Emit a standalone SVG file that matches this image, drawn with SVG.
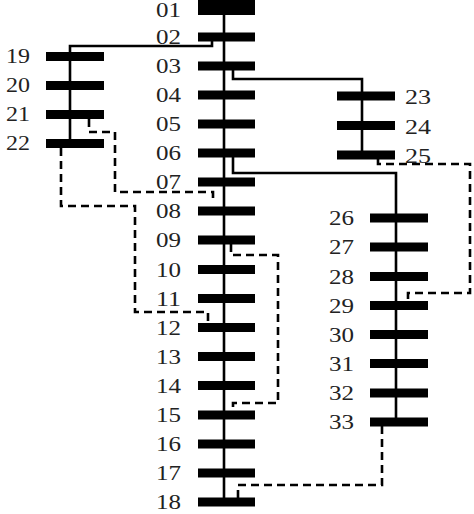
<svg xmlns="http://www.w3.org/2000/svg" width="474" height="514" viewBox="0 0 474 514">
<style>
.bar{fill:#000}
.ln{fill:none;stroke:#000;stroke-width:2.6}
.ds{fill:none;stroke:#000;stroke-width:2.6;stroke-dasharray:8 5}
text{font-family:"Liberation Serif","Times New Roman",serif;font-size:20px;fill:#222}
.e{text-anchor:end}
</style>
<rect width="474" height="514" fill="#fff"/>
<g id="connectors">
<line class="ln" x1="224" y1="0" x2="224" y2="502"/>
<path class="ln" d="M212,41 V46 H70 V143.5"/>
<path class="ln" d="M233,70 V79 H362 V155"/>
<path class="ln" d="M233,157 V173 H396 V422"/>
<path class="ds" d="M89,119 V132 H115 V192 H213 V202"/>
<path class="ds" d="M61,148 V206 H135 V312 H208 V321"/>
<path class="ds" d="M231,244 V255 H278 V403 H233 V410"/>
<path class="ds" d="M378,159 V164 H470 V293 H408 V300"/>
<path class="ds" d="M382,426 V485 H238 V498"/>
</g>
<g id="bus01"><rect class="bar" x="198" y="0" width="57" height="15"/><text class="e" x="181" y="16.5" textLength="25" lengthAdjust="spacingAndGlyphs">01</text></g>
<g id="bus02"><rect class="bar" x="198" y="32.5" width="57" height="9"/><text class="e" x="181" y="44" textLength="25" lengthAdjust="spacingAndGlyphs">02</text></g>
<g id="bus03"><rect class="bar" x="198" y="61.5" width="57" height="9"/><text class="e" x="181" y="73" textLength="25" lengthAdjust="spacingAndGlyphs">03</text></g>
<g id="bus04"><rect class="bar" x="198" y="90.5" width="57" height="9"/><text class="e" x="181" y="102" textLength="25" lengthAdjust="spacingAndGlyphs">04</text></g>
<g id="bus05"><rect class="bar" x="198" y="119.5" width="57" height="9"/><text class="e" x="181" y="131" textLength="25" lengthAdjust="spacingAndGlyphs">05</text></g>
<g id="bus06"><rect class="bar" x="198" y="148.5" width="57" height="9"/><text class="e" x="181" y="160" textLength="25" lengthAdjust="spacingAndGlyphs">06</text></g>
<g id="bus07"><rect class="bar" x="198" y="177.5" width="57" height="9"/><text class="e" x="181" y="189" textLength="25" lengthAdjust="spacingAndGlyphs">07</text></g>
<g id="bus08"><rect class="bar" x="198" y="206.5" width="57" height="9"/><text class="e" x="181" y="218" textLength="25" lengthAdjust="spacingAndGlyphs">08</text></g>
<g id="bus09"><rect class="bar" x="198" y="235.5" width="57" height="9"/><text class="e" x="181" y="247" textLength="25" lengthAdjust="spacingAndGlyphs">09</text></g>
<g id="bus10"><rect class="bar" x="198" y="265" width="57" height="9"/><text class="e" x="181" y="276.5" textLength="25" lengthAdjust="spacingAndGlyphs">10</text></g>
<g id="bus11"><rect class="bar" x="198" y="294" width="57" height="9"/><text class="e" x="181" y="305.5" textLength="25" lengthAdjust="spacingAndGlyphs">11</text></g>
<g id="bus12"><rect class="bar" x="198" y="323" width="57" height="9"/><text class="e" x="181" y="334.5" textLength="25" lengthAdjust="spacingAndGlyphs">12</text></g>
<g id="bus13"><rect class="bar" x="198" y="352" width="57" height="9"/><text class="e" x="181" y="363.5" textLength="25" lengthAdjust="spacingAndGlyphs">13</text></g>
<g id="bus14"><rect class="bar" x="198" y="381" width="57" height="9"/><text class="e" x="181" y="392.5" textLength="25" lengthAdjust="spacingAndGlyphs">14</text></g>
<g id="bus15"><rect class="bar" x="198" y="410.5" width="57" height="9"/><text class="e" x="181" y="422" textLength="25" lengthAdjust="spacingAndGlyphs">15</text></g>
<g id="bus16"><rect class="bar" x="198" y="439.5" width="57" height="9"/><text class="e" x="181" y="451" textLength="25" lengthAdjust="spacingAndGlyphs">16</text></g>
<g id="bus17"><rect class="bar" x="198" y="468.5" width="57" height="9"/><text class="e" x="181" y="480" textLength="25" lengthAdjust="spacingAndGlyphs">17</text></g>
<g id="bus18"><rect class="bar" x="198" y="497.5" width="57" height="9"/><text class="e" x="181" y="509" textLength="25" lengthAdjust="spacingAndGlyphs">18</text></g>
<g id="bus19"><rect class="bar" x="46" y="52" width="58" height="9"/><text class="e" x="30" y="63" textLength="24" lengthAdjust="spacingAndGlyphs">19</text></g>
<g id="bus20"><rect class="bar" x="46" y="81" width="58" height="9"/><text class="e" x="30" y="92" textLength="24" lengthAdjust="spacingAndGlyphs">20</text></g>
<g id="bus21"><rect class="bar" x="46" y="110" width="58" height="9"/><text class="e" x="30" y="121" textLength="24" lengthAdjust="spacingAndGlyphs">21</text></g>
<g id="bus22"><rect class="bar" x="46" y="139" width="58" height="9"/><text class="e" x="30" y="150" textLength="24" lengthAdjust="spacingAndGlyphs">22</text></g>
<g id="bus23"><rect class="bar" x="337" y="91.5" width="58" height="9"/><text x="405" y="104" textLength="26" lengthAdjust="spacingAndGlyphs">23</text></g>
<g id="bus24"><rect class="bar" x="337" y="121" width="58" height="9"/><text x="405" y="133.5" textLength="26" lengthAdjust="spacingAndGlyphs">24</text></g>
<g id="bus25"><rect class="bar" x="337" y="150.5" width="58" height="9"/><text x="405" y="163" textLength="26" lengthAdjust="spacingAndGlyphs">25</text></g>
<g id="bus26"><rect class="bar" x="370" y="213.5" width="58" height="9"/><text class="e" x="354" y="225" textLength="25" lengthAdjust="spacingAndGlyphs">26</text></g>
<g id="bus27"><rect class="bar" x="370" y="242.5" width="58" height="9"/><text class="e" x="354" y="254" textLength="25" lengthAdjust="spacingAndGlyphs">27</text></g>
<g id="bus28"><rect class="bar" x="370" y="272" width="58" height="9"/><text class="e" x="354" y="283.5" textLength="25" lengthAdjust="spacingAndGlyphs">28</text></g>
<g id="bus29"><rect class="bar" x="370" y="301" width="58" height="9"/><text class="e" x="354" y="312.5" textLength="25" lengthAdjust="spacingAndGlyphs">29</text></g>
<g id="bus30"><rect class="bar" x="370" y="330" width="58" height="9"/><text class="e" x="354" y="341.5" textLength="25" lengthAdjust="spacingAndGlyphs">30</text></g>
<g id="bus31"><rect class="bar" x="370" y="359" width="58" height="9"/><text class="e" x="354" y="370.5" textLength="25" lengthAdjust="spacingAndGlyphs">31</text></g>
<g id="bus32"><rect class="bar" x="370" y="388.5" width="58" height="9"/><text class="e" x="354" y="400" textLength="25" lengthAdjust="spacingAndGlyphs">32</text></g>
<g id="bus33"><rect class="bar" x="370" y="417.5" width="58" height="9"/><text class="e" x="354" y="429" textLength="25" lengthAdjust="spacingAndGlyphs">33</text></g>
</svg>
